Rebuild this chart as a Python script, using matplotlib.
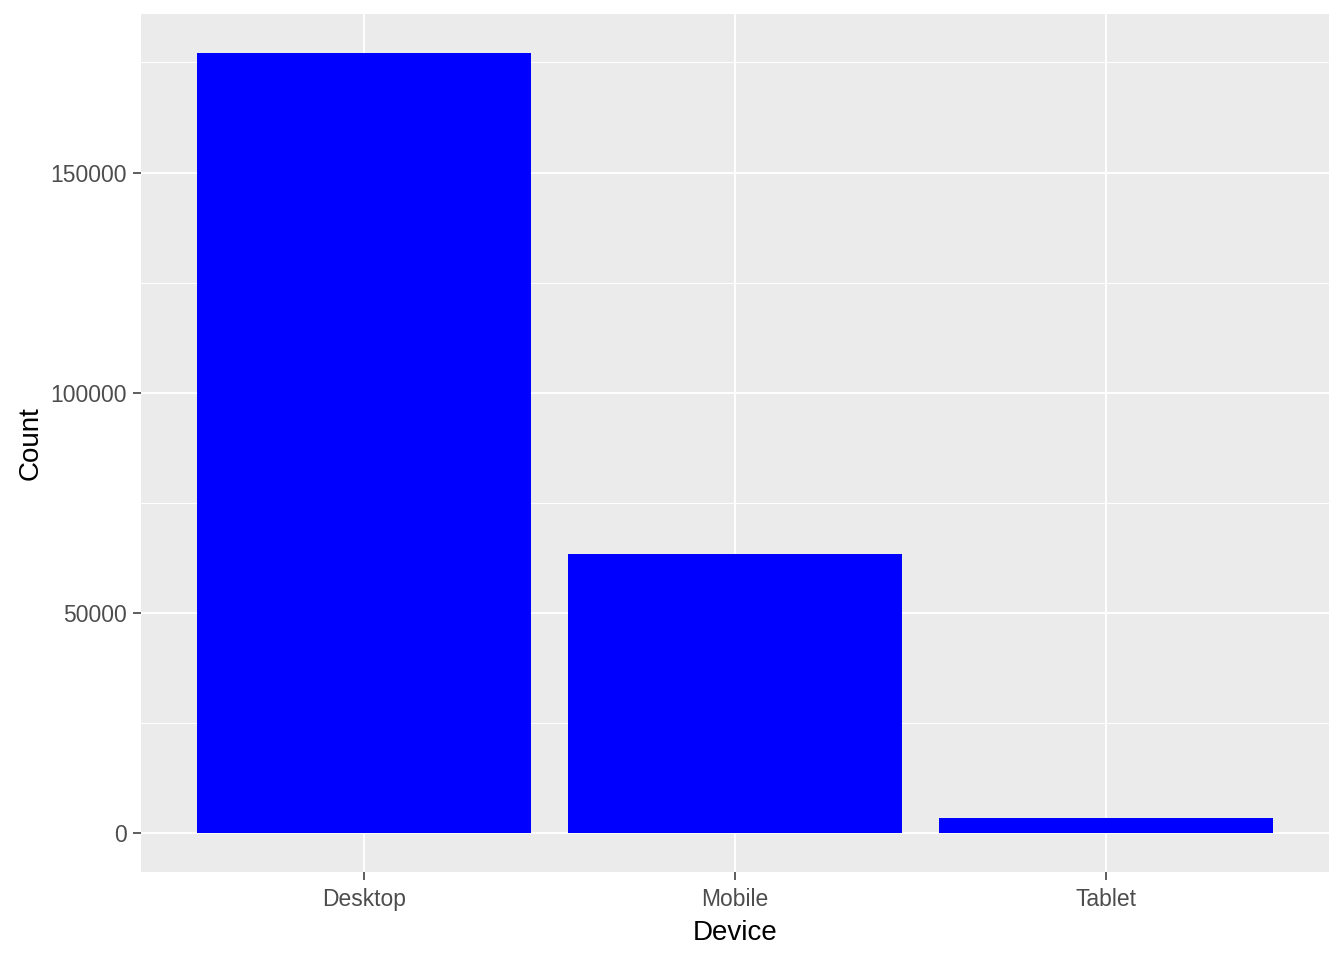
import matplotlib.pyplot as plt
import numpy as np

devices = ["Desktop", "Mobile", "Tablet"]
counts = [177150, 63280, 3500]

plt.rcParams["font.family"] = ["Liberation Sans", "DejaVu Sans"]

fig = plt.figure(figsize=(13.44, 9.6), dpi=100)
ax = fig.add_axes([141 / 1344, 88 / 960, 1188 / 1344, 858 / 960])
ax.set_facecolor("#EBEBEB")

x = np.arange(1, len(devices) + 1)
ax.bar(x, counts, width=0.9, color="#0000FF", zorder=3)

# ggplot-style limits (5% mult on y, 0.6 add on discrete x)
ymax = max(counts)
ax.set_ylim(-0.05 * ymax, ymax * 1.05)
ax.set_xlim(0.4, len(devices) + 0.6)

yticks = [0, 50000, 100000, 150000]
ax.set_yticks(yticks)
ax.set_yticklabels([str(v) for v in yticks])
ax.set_yticks([25000, 75000, 125000, 175000], minor=True)
ax.set_xticks(x)
ax.set_xticklabels(devices)

ax.grid(which="major", color="white", linewidth=1.4, zorder=0)
ax.grid(which="minor", axis="y", color="white", linewidth=0.7, zorder=0)
ax.set_axisbelow(True)

for s in ax.spines.values():
    s.set_visible(False)

ax.tick_params(which="major", length=5.8, width=1.1, color="#333333",
               labelcolor="#4D4D4D", labelsize=16.5, pad=4.5)
ax.tick_params(axis="x", pad=5.5)
ax.tick_params(which="minor", length=0)

ax.set_xlabel("Device", fontsize=20, color="black", labelpad=7)
ax.set_ylabel("Count", fontsize=20, color="black", labelpad=5)

fig.savefig("out.png", dpi=100)
